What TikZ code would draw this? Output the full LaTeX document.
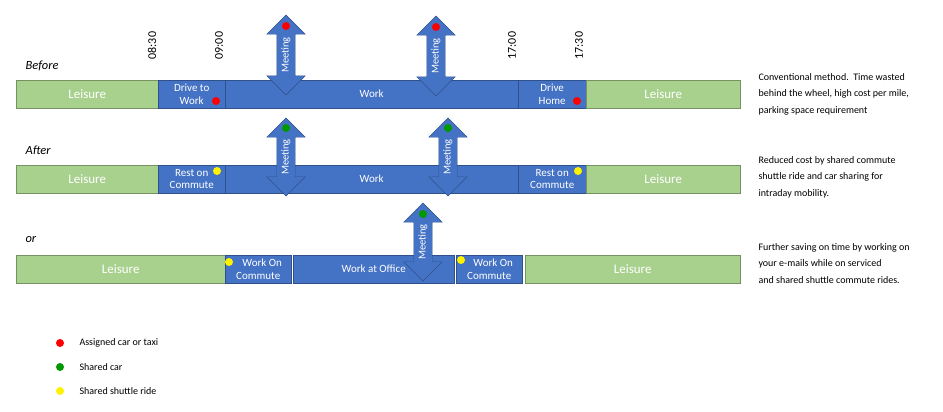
\documentclass[tikz,border=0pt]{standalone}
\usepackage{fontspec}
\setmainfont{Carlito}
\usetikzlibrary{shapes.arrows}
\definecolor{barblue}{HTML}{4472C4}
\definecolor{bargreen}{HTML}{A9D18E}
\tikzset{%
    bar/.style={draw=#1!70!black, fill=#1, text=white, font=\fontsize{11}{12.5}\selectfont,
        align=center, inner sep=0pt, anchor=north west},
    meeting/.style={double arrow, rotate=90, draw=barblue!70!black, fill=barblue,
        text=white, font=\fontsize{10.5}{11}\selectfont, double arrow head extend=10pt,
        inner xsep=1pt, inner ysep=4.5pt},
    time/.style={rotate=90, anchor=west, font=\fontsize{12}{13}\selectfont},
    row/.style={anchor=west, font=\fontsize{12.5}{13}\selectfont\itshape},
    note/.style={anchor=north west, align=left, font=\fontsize{10}{16.5}\selectfont},
    dot/.style={circle, fill=#1, inner sep=0pt, minimum size=8pt}
}
\begin{document}
\begin{tikzpicture}[x=1pt, y=-1pt]
    \useasboundingbox (0,0) rectangle (943,412);

    % before
    \node[bar=bargreen, minimum width=142, minimum height=28] (l1) at (16,80) {\fontsize{13}{13}\selectfont Leisure};
    \node[bar=barblue, minimum width=67, minimum height=28] (d1) at (158,80) {Drive to\\Work\hspace{12pt}};
    \node[bar=barblue, minimum width=293, minimum height=28] (w1) at (225,80) {Work};
    \node[bar=barblue, minimum width=68, minimum height=28] (h1) at (518,80) {Drive\\Home\hspace{12pt}};
    \node[bar=bargreen, minimum width=154, minimum height=28] (r1) at (586,80) {\fontsize{13}{13}\selectfont Leisure};
    \node[dot=red] (dd1) at (216,101) {};
    \node[dot=red] (dh1) at (577,101) {};
    \node[row] (before) at (22,66) {Before};
    \node[time] (t1) at (152,63) {08:30};
    \node[time] (t2) at (219,63) {09:00};
    \node[time] (t3) at (512,63) {17:00};
    \node[time] (t4) at (579,63) {17:30};
    \node[meeting, minimum height=80] (m1) at (286,55) {Meeting};
    \node[meeting, minimum height=80] (m2) at (436,56) {Meeting};
    \node[dot=red] (md1) at (286,26) {};
    \node[dot=red] (md2) at (436,27) {};

    % after
    \node[bar=bargreen, minimum width=142, minimum height=28] (l2) at (16,165) {\fontsize{13}{13}\selectfont Leisure};
    \node[bar=barblue, minimum width=67, minimum height=28] (d2) at (158,165) {Rest on\hspace{9pt}\\Commute};
    \node[bar=barblue, minimum width=293, minimum height=28] (w2) at (225,165) {Work};
    \node[bar=barblue, minimum width=68, minimum height=28] (h2) at (518,165) {Rest on\hspace{9pt}\\Commute};
    \node[bar=bargreen, minimum width=154, minimum height=28] (r2) at (586,165) {\fontsize{13}{13}\selectfont Leisure};
    \node[dot=yellow] (dd2) at (217,171) {};
    \node[dot=yellow] (dh2) at (578,171) {};
    \node[row] (after) at (22,150) {After};
    \node[meeting, minimum height=78] (m3) at (286,157) {Meeting};
    \node[meeting, minimum height=78] (m4) at (448,157) {Meeting};
    \node[dot=green!60!black] (md3) at (286,128) {};
    \node[dot=green!60!black] (md4) at (448,128) {};

    % or
    \node[bar=bargreen, minimum width=209, minimum height=28] (l3) at (16,255) {\fontsize{13}{13}\selectfont Leisure};
    \node[bar=barblue, minimum width=66, minimum height=28] (c3) at (225,255) {\hspace{8pt}Work On\\Commute};
    \node[bar=barblue, minimum width=161, minimum height=28] (w3) at (293,255) {Work at Office};
    \node[bar=barblue, minimum width=66, minimum height=28] (e3) at (456,255) {\hspace{8pt}Work On\\Commute};
    \node[bar=bargreen, minimum width=215, minimum height=28] (r3) at (525,255) {\fontsize{13}{13}\selectfont Leisure};
    \node[dot=yellow] (dc3) at (229,262) {};
    \node[dot=yellow] (de3) at (461,260) {};
    \node[row] (or) at (22,240) {or};
    \node[meeting, minimum height=78] (m5) at (423,242) {Meeting};
    \node[dot=green!60!black] (md5) at (423,214) {};

    % notes
    \node[note] (n1) at (755,70) {Conventional method.\ \ Time wasted\\behind the wheel, high cost per mile,\\parking space requirement};
    \node[note] (n2) at (755,153) {Reduced cost by shared commute\\shuttle ride and car sharing for\\intraday mobility.};
    \node[note] (n3) at (755,240) {Further saving on time by working on\\your e-mails while on serviced\\and shared shuttle commute rides.};

    % legend
    \node[dot=red] (k1) at (60,343) {};
    \node[dot=green!60!black] (k2) at (60,367) {};
    \node[dot=yellow] (k3) at (60,391) {};
    \node[note, anchor=west] (k1t) at (76,343) {Assigned car or taxi};
    \node[note, anchor=west] (k2t) at (76,367) {Shared car};
    \node[note, anchor=west] (k3t) at (76,391) {Shared shuttle ride};
\end{tikzpicture}
\end{document}
